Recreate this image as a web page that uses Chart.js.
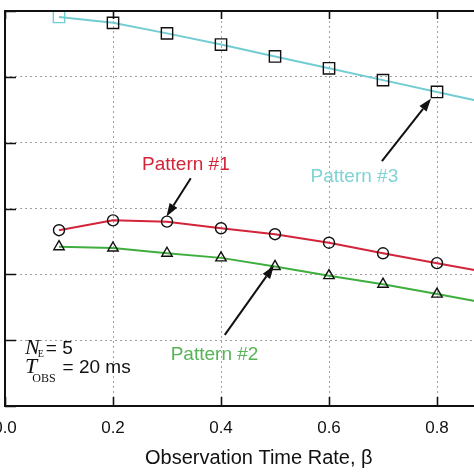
<!DOCTYPE html>
<html lang="en">
<head>
<meta charset="UTF-8" />
<title>Observation Time Rate</title>
<script src="https://cdn.jsdelivr.net/npm/chart.js@4.4.0/dist/chart.umd.min.js"></script>
<style>
  html, body { margin: 0; padding: 0; background: #fff; }
  /* the figure is cropped: y labels on the left and the right end are cut off */
  #wrap { position: relative; width: 474px; height: 474px; overflow: hidden; }
  #box { position: absolute; left: -60px; top: 0; width: 640px; height: 474px; }
</style>
</head>
<body>
<div id="wrap"><div id="box"><canvas id="myChart"></canvas></div></div>
<script>
// observation time rate (beta)
const betas = [0.1, 0.2, 0.3, 0.4, 0.5, 0.6, 0.7, 0.8, 0.9, 1.0];
const pattern1 = [2.67, 2.82, 2.80, 2.70, 2.61, 2.48, 2.32, 2.17, 2.02, 1.87];
const pattern2 = [2.42, 2.40, 2.32, 2.25, 2.12, 1.98, 1.85, 1.70, 1.55, 1.40];
const pattern3 = [5.91, 5.82, 5.66, 5.49, 5.31, 5.13, 4.95, 4.77, 4.59, 4.41];
const xTicks = [0, 0.2, 0.4, 0.6, 0.8, 1.0];
const yTicks = [0, 1, 2, 3, 4, 5, 6];
const xTitle = "Observation Time Rate, \u03B2";

const RED = "#d3243a", GREEN = "#3fae3f", CYAN = "#72cdd3";
const SANS = "'Liberation Sans', Arial, sans-serif";
const SERIF = "'Liberation Serif', 'Times New Roman', serif";

// labels with arrows, in data units
const notes = [
  { text: "Pattern #1", color: RED,   x: 0.335, y: 3.585, from: [0.344, 3.46], to: [0.299, 2.88] },
  { text: "Pattern #3", color: "#80d2d6", x: 0.647, y: 3.407, from: [0.698, 3.72], to: [0.789, 4.67] },
  { text: "Pattern #2", color: "#55b455", x: 0.388, y: 0.694, from: [0.407, 1.08], to: [0.498, 2.13] },
];

function pts(arr) {
  return betas.map((b, i) => ({ x: b, y: arr[i] }));
}

function arrow(ctx, x1, y1, x2, y2) {
  const a = Math.atan2(y2 - y1, x2 - x1);
  const hl = 13, hw = 4.5;
  const bx = x2 - hl * Math.cos(a), by = y2 - hl * Math.sin(a);
  ctx.beginPath();
  ctx.moveTo(x1, y1);
  ctx.lineTo(bx, by);
  ctx.stroke();
  ctx.beginPath();
  ctx.moveTo(x2, y2);
  ctx.lineTo(bx + hw * Math.sin(a), by - hw * Math.cos(a));
  ctx.lineTo(bx - hw * Math.sin(a), by + hw * Math.cos(a));
  ctx.closePath();
  ctx.fill();
}

// frame, inner ticks, annotations and axis title
const decor = {
  id: "decor",
  afterDatasetsDraw(chart) {
    const { ctx, chartArea: a, scales } = chart;
    const x = scales.x, y = scales.y;
    ctx.save();
    ctx.strokeStyle = "#111";
    ctx.lineWidth = 1.6;
    ctx.beginPath();
    xTicks.forEach(v => {
      const px = Math.round(x.getPixelForValue(v)) + 0.5;
      ctx.moveTo(px, a.top); ctx.lineTo(px, a.top + 8);
      ctx.moveTo(px, a.bottom); ctx.lineTo(px, a.bottom - 9);
    });
    yTicks.forEach(v => {
      const py = Math.round(y.getPixelForValue(v)) + 0.5;
      ctx.moveTo(a.left, py); ctx.lineTo(a.left + 11, py);
      ctx.moveTo(a.right, py); ctx.lineTo(a.right - 11, py);
    });
    ctx.stroke();
    ctx.lineWidth = 2;
    ctx.strokeRect(a.left, a.top, a.right - a.left, a.bottom - a.top);

    // arrows + pattern labels
    ctx.lineWidth = 2;
    ctx.fillStyle = "#111";
    notes.forEach(n => {
      arrow(ctx, x.getPixelForValue(n.from[0]), y.getPixelForValue(n.from[1]),
        x.getPixelForValue(n.to[0]), y.getPixelForValue(n.to[1]));
    });
    ctx.font = "19px " + SANS;
    ctx.textAlign = "center";
    ctx.textBaseline = "alphabetic";
    notes.forEach(n => {
      ctx.fillStyle = n.color;
      ctx.fillText(n.text, x.getPixelForValue(n.x), y.getPixelForValue(n.y));
    });

    // N_E = 5, T_OBS = 20 ms
    ctx.fillStyle = "#111";
    ctx.textAlign = "left";
    let px = x.getPixelForValue(0.037), py = y.getPixelForValue(0.79);
    ctx.font = "italic 22px " + SERIF;
    ctx.fillText("N", px, py);
    px += ctx.measureText("N").width - 2;
    ctx.font = "10px " + SERIF;
    ctx.fillText("E", px, py + 3);
    px += ctx.measureText("E").width + 2;
    ctx.font = "19px " + SANS;
    ctx.fillText("= 5", px, py);

    px = x.getPixelForValue(0.037); py = y.getPixelForValue(0.50);
    ctx.font = "italic 22px " + SERIF;
    ctx.fillText("T", px, py);
    px += ctx.measureText("T").width - 5;
    ctx.font = "12px " + SERIF;
    ctx.fillText("OBS", px, py + 9);
    px += ctx.measureText("OBS").width + 7;
    ctx.font = "19px " + SANS;
    ctx.fillText("= 20 ms", px, py);

    // x axis title
    ctx.font = "20px " + SANS;
    ctx.textAlign = "center";
    ctx.fillText(xTitle, x.getPixelForValue(0.47), a.bottom + 57.5);
    ctx.restore();
  }
};

const ctx = document.getElementById("myChart").getContext("2d");
const myChart = new Chart(ctx, {
  type: "line",
  data: {
    datasets: [
      {
        label: "Pattern #3",
        data: pts(pattern3),
        borderColor: CYAN,
        borderWidth: 2,
        pointStyle: "rect",
        pointRadius: 8,
        pointBorderWidth: 1.4,
        pointBorderColor: betas.map((b, i) => (i === 0 ? CYAN : "#111")),
        pointBackgroundColor: "rgba(255,255,255,0)",
      },
      {
        label: "Pattern #1",
        data: pts(pattern1),
        borderColor: RED,
        borderWidth: 2,
        pointStyle: "circle",
        pointRadius: 5.5,
        pointBorderWidth: 1.4,
        pointBorderColor: "#111",
        pointBackgroundColor: "rgba(255,255,255,0)",
      },
      {
        label: "Pattern #2",
        data: pts(pattern2),
        borderColor: GREEN,
        borderWidth: 2,
        pointStyle: "triangle",
        pointRadius: 6,
        pointBorderWidth: 1.4,
        pointBorderColor: "#111",
        pointBackgroundColor: "rgba(255,255,255,0)",
      },
    ],
  },
  options: {
    responsive: true,
    maintainAspectRatio: false,
    animation: false,
    layout: { padding: { top: 11, left: 10, right: 35, bottom: 0 } },
    plugins: { legend: { display: false }, tooltip: { enabled: false } },
    scales: {
      x: {
        type: "linear",
        min: 0,
        max: 1,
        afterBuildTicks: s => { s.ticks = xTicks.map(v => ({ value: v })); },
        afterFit: s => { s.height = 68; },
        grid: { color: "#a0a0a0", lineWidth: 1, drawTicks: false },
        border: { display: false, dash: [2, 3] },
        ticks: {
          padding: 12,
          color: "#111",
          font: { family: SANS, size: 17 },
          maxRotation: 0,
          callback: v => Number(v).toFixed(1),
        },
      },
      y: {
        min: 0,
        max: 6,
        afterBuildTicks: s => { s.ticks = yTicks.map(v => ({ value: v })); },
        afterFit: s => { s.width = 55; },
        grid: { color: "#a0a0a0", lineWidth: 1, drawTicks: false },
        border: { display: false, dash: [2, 3] },
        // y values lie outside the cropped picture
        ticks: { display: false },
      },
    },
  },
  plugins: [decor],
});
</script>
</body>
</html>
